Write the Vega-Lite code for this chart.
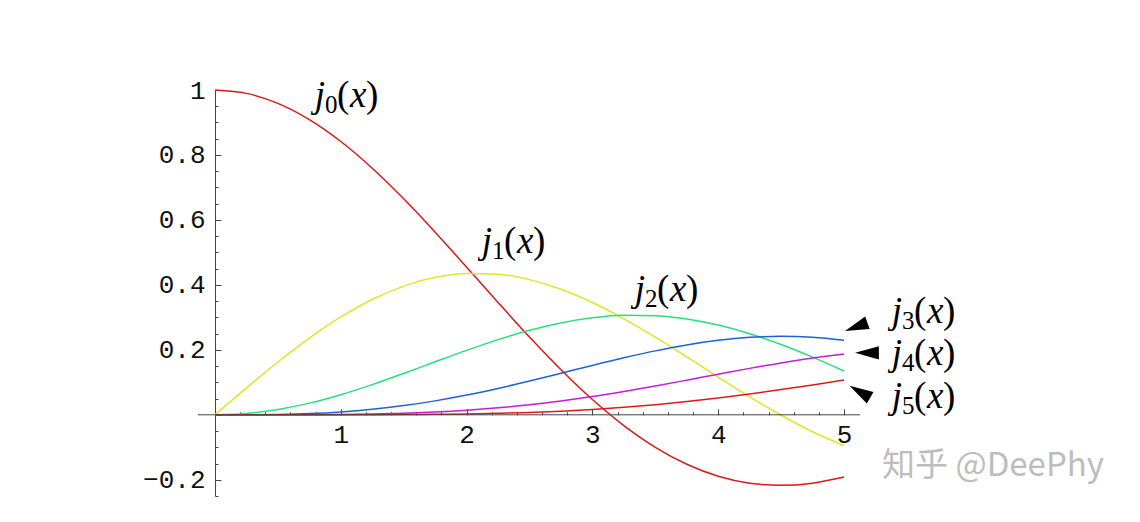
{
  "$schema": "https://vega.github.io/schema/vega-lite/v6.json",
  "autosize": {"type": "none"},
  "padding": {"left": 215, "top": 90, "right": 280, "bottom": 26},
  "width": 645,
  "height": 406,
  "background": "white",
  "config": {
    "view": {"stroke": null},
    "axis": {"labelOverlap": false, "labelFlush": false, "labelBound": false, "grid": false, "title": null, "tickColor": "#444", "domainColor": "#444"}
  },
  "datasets": {
    "bessel": [
      {"x": 0, "j0": 1, "j1": 0, "j2": 0, "j3": 0, "j4": 0, "j5": 0},
      {"x": 0.25, "j0": 0.9896, "j1": 0.0828, "j2": 0.0041, "j3": 0.0001, "j4": 0.0000, "j5": 0.0000},
      {"x": 0.5, "j0": 0.9589, "j1": 0.1625, "j2": 0.0164, "j3": 0.0012, "j4": 0.0001, "j5": 0.0000},
      {"x": 0.75, "j0": 0.9089, "j1": 0.2362, "j2": 0.0360, "j3": 0.0039, "j4": 0.0003, "j5": 0.0000},
      {"x": 1, "j0": 0.8415, "j1": 0.3012, "j2": 0.0620, "j3": 0.0090, "j4": 0.0010, "j5": 0.0001},
      {"x": 1.25, "j0": 0.7592, "j1": 0.3551, "j2": 0.0930, "j3": 0.0170, "j4": 0.0024, "j5": 0.0003},
      {"x": 1.5, "j0": 0.6650, "j1": 0.3962, "j2": 0.1273, "j3": 0.0283, "j4": 0.0048, "j5": 0.0007},
      {"x": 1.75, "j0": 0.5623, "j1": 0.4232, "j2": 0.1631, "j3": 0.0429, "j4": 0.0086, "j5": 0.0014},
      {"x": 2, "j0": 0.4546, "j1": 0.4354, "j2": 0.1984, "j3": 0.0607, "j4": 0.0141, "j5": 0.0026},
      {"x": 2.25, "j0": 0.3458, "j1": 0.4329, "j2": 0.2314, "j3": 0.0813, "j4": 0.0215, "j5": 0.0046},
      {"x": 2.5, "j0": 0.2394, "j1": 0.4162, "j2": 0.2601, "j3": 0.1039, "j4": 0.0309, "j5": 0.0074},
      {"x": 2.75, "j0": 0.1388, "j1": 0.3866, "j2": 0.2829, "j3": 0.1278, "j4": 0.0425, "j5": 0.0112},
      {"x": 3, "j0": 0.0470, "j1": 0.3457, "j2": 0.2986, "j3": 0.1521, "j4": 0.0561, "j5": 0.0164},
      {"x": 3.25, "j0": -0.0333, "j1": 0.2956, "j2": 0.3062, "j3": 0.1754, "j4": 0.0716, "j5": 0.0230},
      {"x": 3.5, "j0": -0.1002, "j1": 0.2389, "j2": 0.3050, "j3": 0.1968, "j4": 0.0886, "j5": 0.0310},
      {"x": 3.75, "j0": -0.1524, "j1": 0.1782, "j2": 0.2950, "j3": 0.2151, "j4": 0.1066, "j5": 0.0407},
      {"x": 4, "j0": -0.1892, "j1": 0.1161, "j2": 0.2763, "j3": 0.2292, "j4": 0.1249, "j5": 0.0518},
      {"x": 4.25, "j0": -0.2106, "j1": 0.0554, "j2": 0.2497, "j3": 0.2384, "j4": 0.1429, "j5": 0.0642},
      {"x": 4.5, "j0": -0.2172, "j1": -0.0014, "j2": 0.2163, "j3": 0.2417, "j4": 0.1598, "j5": 0.0778},
      {"x": 4.75, "j0": -0.2104, "j1": -0.0522, "j2": 0.1774, "j3": 0.2389, "j4": 0.1747, "j5": 0.0921},
      {"x": 5, "j0": -0.1918, "j1": -0.0951, "j2": 0.1347, "j3": 0.2298, "j4": 0.1870, "j5": 0.1068}
    ],
    "labels": [
      {"n": "0", "x": 0.866, "y": 0.948},
      {"n": "1", "x": 2.194, "y": 0.498},
      {"n": "2", "x": 3.41, "y": 0.351},
      {"n": "3", "x": 5.453, "y": 0.283},
      {"n": "4", "x": 5.453, "y": 0.154},
      {"n": "5", "x": 5.453, "y": 0.022}
    ]
  },
  "resolve": {"axis": {"x": "independent", "y": "independent"}},
  "layer": [
    {
      "data": {"name": "bessel"},
      "transform": [{"fold": ["j0", "j1", "j2", "j3", "j4", "j5"], "as": ["fn", "y"]}],
      "mark": {"type": "line", "interpolate": "monotone", "strokeWidth": 1.5, "clip": false},
      "encoding": {
        "x": {
          "field": "x",
          "type": "quantitative",
          "scale": {"domain": [0, 5.127], "nice": false, "zero": false},
          "axis": {
            "orient": "bottom",
            "domain": false,
            "offset": {"expr": "-height*0.2"},
            "values": [1, 2, 3, 4, 5],
            "format": "d",
            "tickSize": -6,
            "labelFont": "Liberation Mono",
            "labelFontSize": 26,
            "labelColor": "#111",
            "labelPadding": 13
          }
        },
        "y": {
          "field": "y",
          "type": "quantitative",
          "scale": {"domain": [-0.25, 1], "nice": false, "zero": false},
          "axis": {
            "orient": "left",
            "values": [-0.2, 0, 0.2, 0.4, 0.6, 0.8, 1],
            "tickSize": -6,
            "labelExpr": "abs(datum.value) < 0.01 ? '' : format(datum.value, '.1~f')",
            "labelFont": "Liberation Mono",
            "labelFontSize": 26,
            "labelColor": "#111",
            "labelPadding": 16
          }
        },
        "color": {
          "field": "fn",
          "type": "nominal",
          "scale": {
            "domain": ["j0", "j1", "j2", "j3", "j4", "j5"],
            "range": ["#dc1818", "#d9e828", "#26e07c", "#1c62d6", "#c41cd8", "#dc1c1c"]
          },
          "legend": null
        }
      }
    },
    {
      "data": {"values": [{}]},
      "mark": {"type": "rule", "color": "#444", "strokeWidth": 1},
      "encoding": {
        "x": {
          "datum": -0.135,
          "type": "quantitative",
          "axis": {
            "orient": "bottom",
            "domain": false,
            "labels": false,
            "offset": {"expr": "-height*0.2"},
            "values": [0.2, 0.4, 0.6, 0.8, 1.2, 1.4, 1.6, 1.8, 2.2, 2.4, 2.6, 2.8, 3.2, 3.4, 3.6, 3.8, 4.2, 4.4, 4.6, 4.8],
            "tickSize": -3
          }
        },
        "x2": {"datum": 5.127},
        "y": {
          "datum": 0,
          "type": "quantitative",
          "axis": {
            "orient": "left",
            "domain": false,
            "labels": false,
            "values": [-0.25, -0.15, -0.1, -0.05, 0.05, 0.1, 0.15, 0.25, 0.3, 0.35, 0.45, 0.5, 0.55, 0.65, 0.7, 0.75, 0.85, 0.9, 0.95],
            "tickSize": -3
          }
        }
      }
    },
    {
      "data": {"name": "labels"},
      "mark": {"type": "text", "text": "j", "font": "Liberation Serif", "fontStyle": "italic", "fontSize": 37, "align": "right", "baseline": "alphabetic", "dx": 1, "color": "black"},
      "encoding": {
        "x": {"field": "x", "type": "quantitative", "axis": null},
        "y": {"field": "y", "type": "quantitative", "axis": null}
      }
    },
    {
      "data": {"name": "labels"},
      "mark": {"type": "text", "font": "Liberation Serif", "fontSize": 25, "align": "left", "baseline": "alphabetic", "dx": 1, "dy": 6, "color": "black"},
      "encoding": {
        "x": {"field": "x", "type": "quantitative", "axis": null},
        "y": {"field": "y", "type": "quantitative", "axis": null},
        "text": {"field": "n"}
      }
    },
    {
      "data": {"name": "labels"},
      "mark": {"type": "text", "text": "(", "font": "Liberation Serif", "fontSize": 37, "align": "left", "baseline": "alphabetic", "dx": 13, "color": "black"},
      "encoding": {
        "x": {"field": "x", "type": "quantitative", "axis": null},
        "y": {"field": "y", "type": "quantitative", "axis": null}
      }
    },
    {
      "data": {"name": "labels"},
      "mark": {"type": "text", "text": "x", "font": "Liberation Serif", "fontStyle": "italic", "fontSize": 37, "align": "left", "baseline": "alphabetic", "dx": 26, "color": "black"},
      "encoding": {
        "x": {"field": "x", "type": "quantitative", "axis": null},
        "y": {"field": "y", "type": "quantitative", "axis": null}
      }
    },
    {
      "data": {"name": "labels"},
      "mark": {"type": "text", "text": ")", "font": "Liberation Serif", "fontSize": 37, "align": "left", "baseline": "alphabetic", "dx": 42, "color": "black"},
      "encoding": {
        "x": {"field": "x", "type": "quantitative", "axis": null},
        "y": {"field": "y", "type": "quantitative", "axis": null}
      }
    },
    {
      "data": {"values": [{}]},
      "mark": {"type": "point", "shape": "M-1,0L0.8,-0.5L0.8,0.5Z", "size": 700, "filled": true, "color": "black", "opacity": 1, "angle": 340},
      "encoding": {
        "x": {"datum": 5.107, "type": "quantitative", "axis": null},
        "y": {"datum": 0.272, "type": "quantitative", "axis": null}
      }
    },
    {
      "data": {"values": [{}]},
      "mark": {"type": "point", "shape": "M-1,0L0.8,-0.5L0.8,0.5Z", "size": 700, "filled": true, "color": "black", "opacity": 1, "angle": 0},
      "encoding": {
        "x": {"datum": 5.193, "type": "quantitative", "axis": null},
        "y": {"datum": 0.191, "type": "quantitative", "axis": null}
      }
    },
    {
      "data": {"values": [{}]},
      "mark": {"type": "point", "shape": "M-1,0L0.8,-0.5L0.8,0.5Z", "size": 700, "filled": true, "color": "black", "opacity": 1, "angle": 30},
      "encoding": {
        "x": {"datum": 5.135, "type": "quantitative", "axis": null},
        "y": {"datum": 0.069, "type": "quantitative", "axis": null}
      }
    },
    {
      "data": {"values": [{}]},
      "mark": {"type": "text", "text": "知乎 @DeePhy", "font": "Noto Sans CJK SC", "fontSize": 33, "align": "left", "baseline": "alphabetic", "color": "#bdbdbd"},
      "encoding": {
        "x": {"datum": 5.302, "type": "quantitative", "axis": null},
        "y": {"datum": -0.188, "type": "quantitative", "axis": null}
      }
    }
  ]
}
